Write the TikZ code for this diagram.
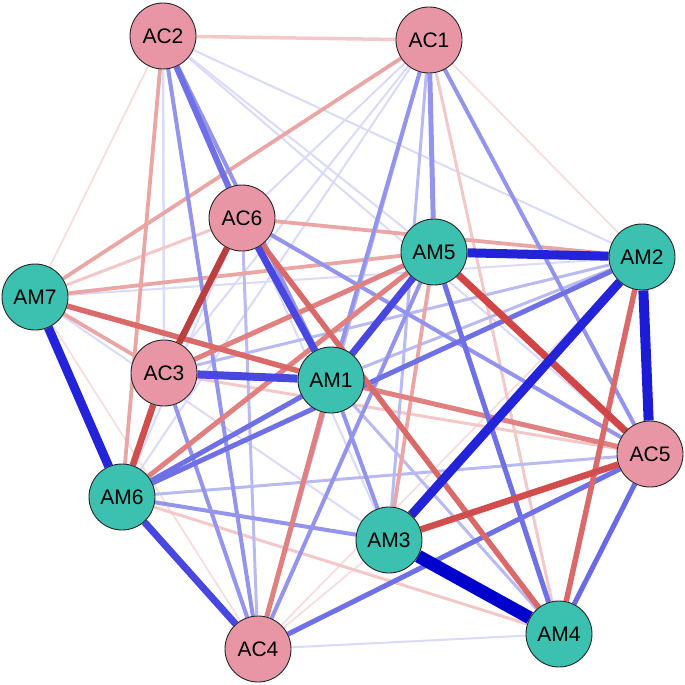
\documentclass[tikz,border=0pt]{standalone}
\usepackage{fontspec}
\setmainfont{Liberation Sans}
\usetikzlibrary{backgrounds}
\definecolor{teal1}{RGB}{60,192,176}
\definecolor{pink1}{RGB}{232,150,166}
\definecolor{bA}{RGB}{0,0,205}
\definecolor{bB}{RGB}{35,35,218}
\definecolor{bC}{RGB}{72,72,224}
\definecolor{bD}{RGB}{112,112,230}
\definecolor{bE}{RGB}{148,148,236}
\definecolor{bF}{RGB}{186,186,243}
\definecolor{bG}{RGB}{218,218,249}
\definecolor{rA}{RGB}{208,70,70}
\definecolor{rB}{RGB}{218,105,105}
\definecolor{rC}{RGB}{225,128,128}
\definecolor{rD}{RGB}{234,165,165}
\definecolor{rE}{RGB}{242,200,200}
\definecolor{rF}{RGB}{247,222,222}
\tikzset{
  amnode/.style={circle,draw=black!85,line width=0.9pt,fill=teal1,minimum size=66pt,inner sep=0pt,font=\fontsize{21}{21}\selectfont},
  acnode/.style={amnode,fill=pink1},
  ba/.style={draw=bA,line width=13pt},
  bb/.style={draw=bB,line width=9pt},
  bc/.style={draw=bC,line width=7pt},
  bd/.style={draw=bD,line width=5pt},
  be/.style={draw=bE,line width=4pt},
  bf/.style={draw=bF,line width=3pt},
  bg/.style={draw=bG,line width=2pt},
  ra/.style={draw=rA,line width=6.5pt},
  rb/.style={draw=rB,line width=5.5pt},
  rc/.style={draw=rC,line width=5pt},
  rd/.style={draw=rD,line width=3.8pt},
  re/.style={draw=rE,line width=3pt},
  rf/.style={draw=rF,line width=1.8pt},
}
\begin{document}
\begin{tikzpicture}[x=1pt,y=-1pt]
\useasboundingbox (0,0) rectangle (685,685);
\node[acnode] (AC2) at (163,36) {AC2};
\node[acnode] (AC1) at (429,40) {AC1};
\node[acnode] (AC6) at (242,218) {AC6};
\node[amnode] (AM5) at (434,252) {AM5};
\node[amnode] (AM2) at (642,257) {AM2};
\node[amnode] (AM7) at (35,297) {AM7};
\node[acnode] (AC3) at (164,373) {AC3};
\node[amnode] (AM1) at (331,380) {AM1};
\node[acnode] (AC5) at (650,454) {AC5};
\node[amnode] (AM6) at (122,497) {AM6};
\node[amnode] (AM3) at (389,540) {AM3};
\node[amnode] (AM4) at (559,634) {AM4};
\node[acnode] (AC4) at (258,649) {AC4};
\begin{pgfonlayer}{background}
% faint
\draw[rf] (AC2)--(AM7);
\draw[rf] (AM7)--(AC4);
\draw[rf] (AC4)--(AM3);
\draw[rf] (AC4)--(AM2);
\draw[rf] (AC1)--(AM2);
\draw[bg] (AC2)--(AM2);
\draw[bg] (AC2)--(AM5);
\draw[bg] (AC2)--(AC5);
\draw[bg] (AC2)--(AM3);
\draw[bg] (AC1)--(AC3);
\draw[bg] (AC1)--(AM6);
\draw[bg] (AC1)--(AC6);
\draw[bg] (AM7)--(AM2);
\draw[bg] (AC4)--(AM4);
\draw[bg] (AM7)--(AM3);
\draw[bg] (AC6)--(AM6);
\draw[bg,line width=2.5pt] (AC2)--(AC3);
% light
\draw[re] (AM7)--(AC6);
\draw[re] (AC3)--(AC5);
\draw[re] (AM6)--(AM4);
\draw[re] (AC1)--(AM4);
\draw[re,line width=3.5pt] (AC2)--(AC1);
\draw[bf] (AM1)--(AM4);
\draw[bf] (AM2)--(AM1);
\draw[bf] (AM6)--(AC5);
\draw[bf] (AM2)--(AC3);
\draw[bf] (AC6)--(AC4);
\draw[bf] (AC1)--(AC4);
\draw[bf] (AC1)--(AM3);
% medium light
\draw[rd] (AM5)--(AM3);
\draw[rd] (AC2)--(AM6);
\draw[rd] (AM7)--(AC3);
\draw[rd] (AC6)--(AM2);
\draw[rd] (AC1)--(AM7);
\draw[rd] (AM7)--(AM5);
\draw[be] (AC1)--(AC5);
\draw[be] (AC6)--(AC5);
\draw[be] (AC2)--(AC4);
\draw[be] (AC3)--(AC4);
\draw[be] (AM5)--(AC4);
\draw[be] (AM1)--(AM3);
\draw[be] (AM6)--(AM3);
\draw[be] (AC2)--(AM1);
\draw[be] (AC1)--(AM1);
\draw[be,line width=5pt] (AM5)--(AC1);
% medium
\draw[rc] (AM1)--(AC4);
\draw[rc] (AM1)--(AC5);
\draw[rc] (AM5)--(AC3);
\draw[rc] (AM5)--(AM6);
\draw[bd] (AC4)--(AC5);
\draw[bd,draw=bD!85!bC] (AM4)--(AC5);
\draw[bd] (AM5)--(AM4);
\draw[bd] (AM6)--(AM2);
\draw[bd] (AM6)--(AM1);
\draw[bd,line width=6pt] (AC2)--(AC6);
\draw[rb] (AM7)--(AM1);
\draw[rb] (AC6)--(AM4);
\draw[rb] (AM2)--(AM4);
% strong
\draw[ra,line width=7pt] (AM5)--(AC5);
\draw[ra,draw=rA!90!black] (AC6)--(AC3);
\draw[ra,draw=rA!80!rB] (AC3)--(AM6);
\draw[ra,draw=rA!80!rB] (AM3)--(AC5);
\draw[bc,line width=8pt] (AC3)--(AM1);
\draw[bc] (AM6)--(AC4);
\draw[bc] (AC6)--(AM1);
\draw[bc] (AM5)--(AM1);
\draw[bb] (AM3)--(AM2);
\draw[bb] (AM5)--(AM2);
\draw[bb] (AM7)--(AM6);
\draw[bb,line width=10pt,draw=bB!80!bA] (AM2)--(AC5);
\draw[ba] (AM3)--(AM4);
\end{pgfonlayer}
\end{tikzpicture}
\end{document}
